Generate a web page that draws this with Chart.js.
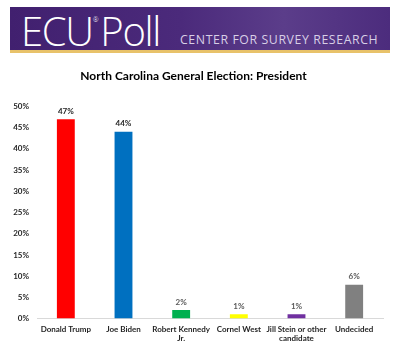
<!DOCTYPE html>
<html>
<head>
<meta charset="utf-8">
<script src="https://cdn.jsdelivr.net/npm/chart.js@4"></script>
<style>
  body { margin: 0; background: #fff; width: 400px; height: 346px; overflow: hidden; position: relative; font-family: Lato, "Noto Sans", sans-serif; }
  #banner { position: absolute; left: 10px; top: 7px; width: 380px; height: 43px; overflow: hidden; background: linear-gradient(90deg, #41206f 0%, #4b2a7b 45%, #5b3d8a 72%, #4c2c7d 100%); border-bottom: 3px solid #e8c26a; }
  #logo { position: absolute; left: 11px; top: -7px; color: #fff; font-family: "Open Sans", sans-serif; font-weight: 300; font-size: 40px; letter-spacing: -1.3px; line-height: 40px; white-space: nowrap; }
  #logo sup { font-size: 7px; vertical-align: 24px; margin-right: 3px; }
  #sub { position: absolute; left: 170px; top: 27px; color: #d8cfe6; font-family: "Open Sans", sans-serif; font-size: 12.3px; letter-spacing: 0.6px; line-height: 12.5px; white-space: nowrap; }
  #wrap { position: absolute; left: 0; top: 60px; width: 400px; height: 286px; }
</style>
</head>
<body>
<div id="banner">
  <div id="logo">ECU<sup>®</sup>Poll</div>
  <div id="sub">CENTER FOR SURVEY RESEARCH</div>
</div>
<div id="wrap"><canvas id="myChart"></canvas></div>
<script>
// data
var candidates = ['Donald Trump', 'Joe Biden', ['Robert Kennedy', 'Jr.'], 'Cornel West', ['Jill Stein or other', 'candidate'], 'Undecided']
var barValues = [47, 44, 2, 1, 1, 8]
var valueLabels = ['47%', '44%', '2%', '1%', '1%', '6%']
var barColors = ['#ff0000', '#0070c0', '#00b050', '#ffff00', '#7030a0', '#808080']
var yTicks = [0, 5, 10, 15, 20, 25, 30, 35, 40, 45, 50]

// labels above the bars
var topLabels = {
  id: 'topLabels',
  afterDatasetsDraw: function(chart) {
    var ctx = chart.ctx
    var meta = chart.getDatasetMeta(0)
    ctx.save()
    ctx.textAlign = 'center'
    ctx.textBaseline = 'middle'
    meta.data.forEach(function(bar, i) {
      ctx.font = 'bold 8px Lato, sans-serif'
      ctx.fillStyle = i < 2 ? '#262626' : '#595959'
      ctx.fillText(valueLabels[i], bar.x, bar.y - 8)
    })
    ctx.restore()
  }
}

var ctx = document.getElementById('myChart').getContext('2d')
var chart = new Chart(ctx, {
  type: 'bar',
  data: {
    labels: candidates,
    datasets: [{
      data: barValues,
      backgroundColor: barColors,
      barPercentage: 0.31,
      categoryPercentage: 1
    }]
  },
  options: {
    responsive: true,
    maintainAspectRatio: false,
    animation: false,
    layout: { padding: { left: 4, right: 17, top: 0, bottom: 3 } },
    plugins: {
      legend: { display: false },
      tooltip: { enabled: false },
      title: {
        display: true,
        text: 'North Carolina General Election: President',
        color: '#000',
        font: { family: 'Lato, sans-serif', size: 12, weight: 'bold' },
        padding: { top: 9, bottom: 23 }
      }
    },
    scales: {
      y: {
        min: 0,
        max: 50,
        afterBuildTicks: function(axis) {
          axis.ticks = yTicks.map(function(v) { return { value: v } })
        },
        afterFit: function(axis) { axis.width = 33 },
        grid: { display: false, drawTicks: false },
        border: { display: false },
        ticks: {
          padding: 8,
          color: '#262626',
          font: { family: 'Lato, sans-serif', size: 8, weight: 'bold' },
          callback: function(v) { return v + '%' }
        }
      },
      x: {
        afterFit: function(axis) { axis.height = axis.height - 6 },
        grid: { display: false, drawTicks: false },
        border: { color: '#d9d9d9' },
        ticks: {
          maxRotation: 0,
          autoSkip: false,
          padding: 6,
          color: '#262626',
          font: { family: 'Lato, sans-serif', size: 8, weight: 'bold', lineHeight: 1.15 }
        }
      }
    }
  },
  plugins: [topLabels]
})
</script>
</body>
</html>
